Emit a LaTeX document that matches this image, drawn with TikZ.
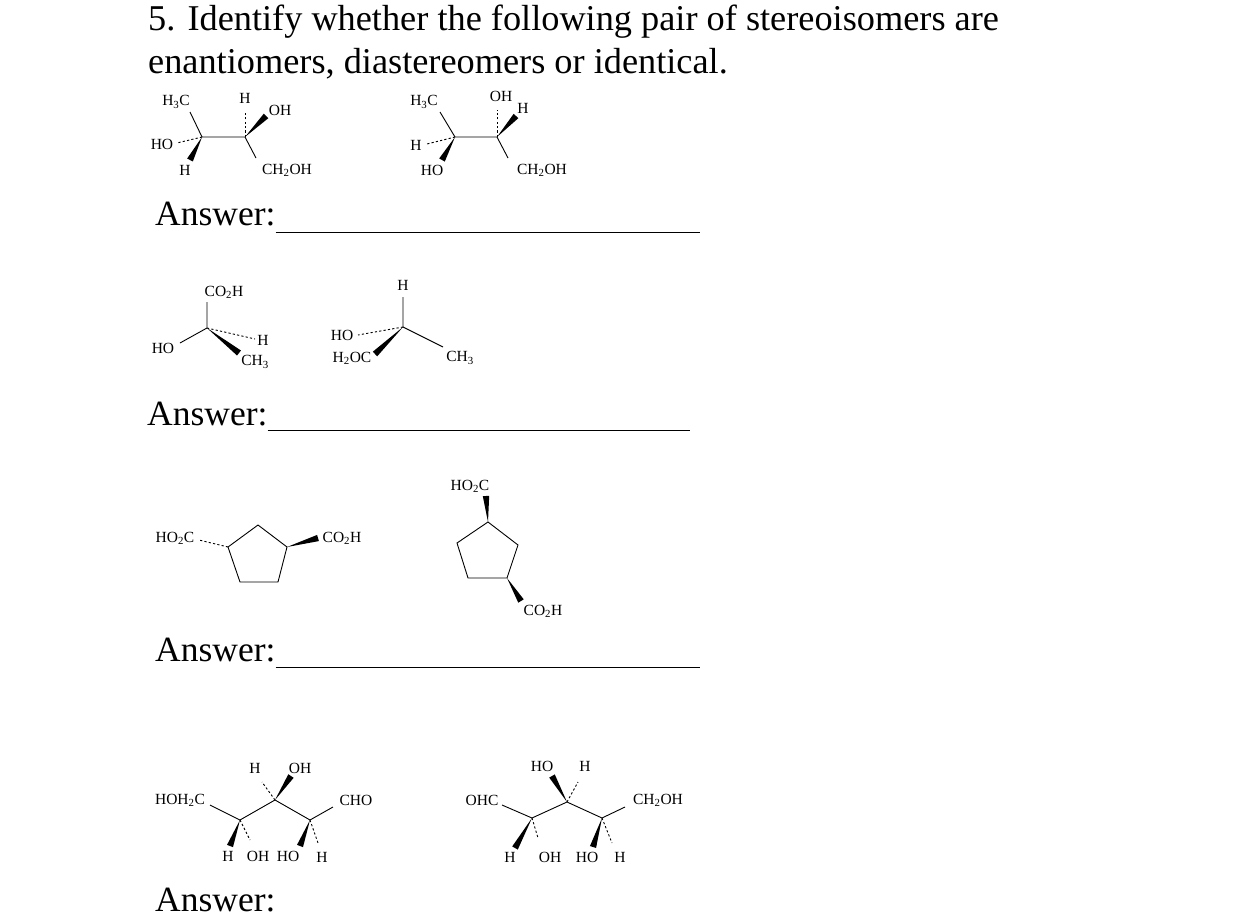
\documentclass[tikz,border=0pt]{standalone}
\usepackage{fontspec}
\setmainfont{Liberation Serif}
\usetikzlibrary{calc}
\newcommand{\sub}[1]{\textsubscript{#1}}
\newcommand{\wdg}[2]{\fill #1 -- ($#2!3.2pt!90:#1$) -- ($#2!3.2pt!-90:#1$) -- cycle;}
\begin{document}
\begin{tikzpicture}[x=1pt,y=-1pt,
  lab/.style={font=\fontsize{15.5}{15.5}\selectfont,inner sep=0pt},
  bnd/.style={line width=0.9pt},
  hsh/.style={line width=0.9pt,dash pattern=on 2.2pt off 2.2pt},
  ans/.style={font=\fontsize{35.5}{35.5}\selectfont,anchor=west,inner sep=0pt}]
\useasboundingbox (0,0) rectangle (1242,918);
% title
\node[anchor=west,inner sep=0pt,font=\fontsize{36.3}{36.3}\selectfont] (t1) at (148,22) {5. Identify whether the following pair of stereoisomers are};
\node[anchor=west,inner sep=0pt,font=\fontsize{36.3}{36.3}\selectfont] (t2) at (148,64) {enantiomers, diastereomers or identical.};
% ---- pair 1a
\node[lab] (a1) at (176,102) {H\sub{3}C};
\node[lab] (a2) at (245,98) {H};
\node[lab] (a3) at (280,110) {OH};
\node[lab] (a4) at (162,144) {HO};
\node[lab] (a5) at (185,170) {H};
\node[lab] (a6) at (287,170) {CH\sub{2}OH};
\draw[bnd] (190,112) -- (202,137) -- (245,137) -- (256,158);
\draw[hsh] (202,137) -- (177,143);
\draw[hsh] (245,137) -- (245,112);
\wdg{(202,137)}{(190,160)}
\wdg{(245,137)}{(266,116)}
% ---- pair 1b
\node[lab] (b1) at (424,102) {H\sub{3}C};
\node[lab] (b2) at (501,96) {OH};
\node[lab] (b3) at (523,108) {H};
\node[lab] (b4) at (416,145) {H};
\node[lab] (b5) at (432,170) {HO};
\node[lab] (b6) at (542,170) {CH\sub{2}OH};
\draw[bnd] (440,112) -- (455,137) -- (497,137) -- (508,158);
\draw[hsh] (455,137) -- (427,144);
\draw[hsh] (497,137) -- (497,110);
\wdg{(455,137)}{(442,160)}
\wdg{(497,137)}{(516,116)}
\node[ans] (ans1) at (155,214) {Answer:};
\draw[line width=1pt] (ans1.east |- 0,232) -- (700,232);
% ---- pair 2a
\node[lab] (c1) at (224,292) {CO\sub{2}H};
\node[lab] (c2) at (163,348) {HO};
\node[lab] (c3) at (263,340) {H};
\node[lab] (c4) at (255,362) {CH\sub{3}};
\draw[bnd] (207,302) -- (207,328) -- (180,343);
\draw[hsh] (207,328) -- (255,339);
\wdg{(207,328)}{(239,353)}
% ---- pair 2b
\node[lab] (d1) at (403,285) {H};
\node[lab] (d2) at (342,335) {HO};
\node[lab] (d3) at (352,358) {H\sub{2}OC};
\node[lab] (d4) at (460,358) {CH\sub{3}};
\draw[bnd] (403,297) -- (403,327) -- (443,347);
\draw[hsh] (403,327) -- (358,335);
\wdg{(403,327)}{(375,354)}
\node[ans] (ans2) at (147,414) {Answer:};
\draw[line width=1pt] (ans2.east |- 0,430) -- (690,430);
% ---- pair 3a
\node[lab] (e1) at (175,538) {HO\sub{2}C};
\node[lab] (e2) at (342,538) {CO\sub{2}H};
\draw[bnd] (228,547) -- (258,525) -- (287,547) -- (278,582) -- (240,582) -- cycle;
\draw[hsh] (228,547) -- (199,540);
\wdg{(287,547)}{(318,538)}
% ---- pair 3b
\node[lab] (f1) at (470,486) {HO\sub{2}C};
\node[lab] (f2) at (543,611) {CO\sub{2}H};
\draw[bnd] (488,522) -- (518,545) -- (507,578) -- (468,578) -- (457,543) -- cycle;
\wdg{(488,522)}{(486,496)}
\wdg{(507,578)}{(521,601)}
\node[ans] (ans3) at (155,650) {Answer:};
\draw[line width=1pt] (ans3.east |- 0,667) -- (700,667);
% ---- pair 4a
\node[lab] (g1) at (180,800) {HOH\sub{2}C};
\node[lab] (g2) at (356,800) {CHO};
\node[lab] (g3) at (255,768) {H};
\node[lab] (g4) at (300,768) {OH};
\node[lab] (g5) at (228,856) {H};
\node[lab] (g6) at (258,856) {OH};
\node[lab] (g7) at (288,856) {HO};
\node[lab] (g8) at (322,857) {H};
\draw[bnd] (210,805) -- (240,820) -- (275,800) -- (310,820) -- (333,807);
\draw[hsh] (275,800) -- (262,782);
\draw[hsh] (240,820) -- (250,840);
\draw[hsh] (310,820) -- (318,843);
\wdg{(275,800)}{(291,776)}
\wdg{(240,820)}{(230,846)}
\wdg{(310,820)}{(300,846)}
% ---- pair 4b
\node[lab] (h1) at (482,800) {OHC};
\node[lab] (h2) at (658,800) {CH\sub{2}OH};
\node[lab] (h3) at (542,766) {HO};
\node[lab] (h4) at (585,766) {H};
\node[lab] (h5) at (510,857) {H};
\node[lab] (h6) at (550,857) {OH};
\node[lab] (h7) at (587,857) {HO};
\node[lab] (h8) at (620,857) {H};
\draw[bnd] (502,805) -- (532,818) -- (567,802) -- (602,818) -- (625,807);
\draw[hsh] (567,802) -- (578,782);
\draw[hsh] (532,818) -- (538,838);
\draw[hsh] (602,818) -- (612,843);
\wdg{(567,802)}{(552,776)}
\wdg{(532,818)}{(515,848)}
\wdg{(602,818)}{(593,847)}
\node[ans] (ans4) at (155,900) {Answer:};
\end{tikzpicture}
\end{document}
